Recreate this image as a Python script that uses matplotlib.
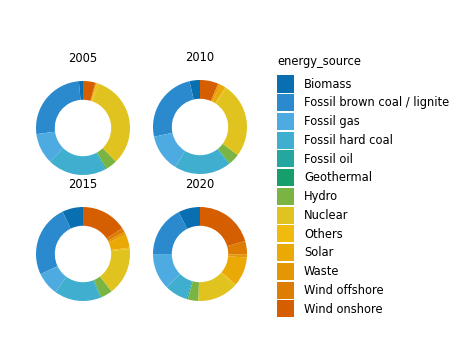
import matplotlib
matplotlib.use("Agg")
import matplotlib.pyplot as plt
from matplotlib.patches import Patch

# ---------------------------------------------------------------- DATA
sources = ["Biomass", "Fossil brown coal / lignite", "Fossil gas",
           "Fossil hard coal", "Fossil oil", "Geothermal", "Hydro",
           "Nuclear", "Others", "Solar", "Waste", "Wind offshore",
           "Wind onshore"]
colors = ["#0a6fb1", "#2a8acd", "#4eabe2", "#40afcf", "#23a79f", "#169e6c",
          "#7ab543", "#e0c31e", "#f0bb0c", "#eaa905", "#e39703", "#dd7d03",
          "#d55e00"]

years = ["2005", "2010", "2015", "2020"]
share_2005 = [1.4, 25.5, 10.5, 20.0, 0.5, 0.0, 4.0, 32.0, 0.6, 0.2, 0.4, 0.0, 4.2]
share_2010 = [3.6, 24.7, 12.8, 19.4, 0.4, 0.0, 3.9, 25.6, 0.5, 1.9, 0.7, 0.1, 6.3]
share_2015 = [7.2, 25.0, 8.0, 16.0, 0.4, 0.0, 4.0, 16.4, 0.5, 4.6, 1.0, 1.5, 15.8]
share_2020 = [7.5, 17.5, 12.5, 7.8, 0.5, 0.0, 3.6, 13.9, 0.4, 10.0, 1.0, 4.7, 20.5]
shares = [share_2005, share_2010, share_2015, share_2020]

# ---------------------------------------------------------------- FIGURE
W, H = 474, 355
FS = 8.3
fig = plt.figure(figsize=(W / 100, H / 100), dpi=100)

centers = [(83, 128), (200, 127), (83, 254), (200, 254)]
R = 47  # outer radius in px
for (cx, cy), yr, vals in zip(centers, years, shares):
    ax = fig.add_axes([(cx - R) / W, 1 - (cy + R) / H, 2 * R / W, 2 * R / H])
    ax.pie(vals, colors=colors, startangle=90, counterclock=True,
           radius=1.0, wedgeprops=dict(width=0.4, linewidth=0))
    ax.set_xlim(-1, 1)
    ax.set_ylim(-1, 1)
    ax.set_aspect("equal")
    ax.set_title(yr, fontsize=FS, pad=14)

# legend: title as separate text so its gap can match
fig.text(277 / W, 1 - 61 / H, "energy_source", fontsize=FS,
         ha="left", va="center")
handles = [Patch(facecolor=c, edgecolor="none") for c in colors]
fig.legend(handles, sources, loc="upper left",
           bbox_to_anchor=(277 / W, 1 - 75.5 / H), frameon=False,
           fontsize=FS, handlelength=1.48, handleheight=1.9,
           labelspacing=0.145, handletextpad=0.87, borderpad=0,
           borderaxespad=0)

fig.savefig("out.png", dpi=100)
